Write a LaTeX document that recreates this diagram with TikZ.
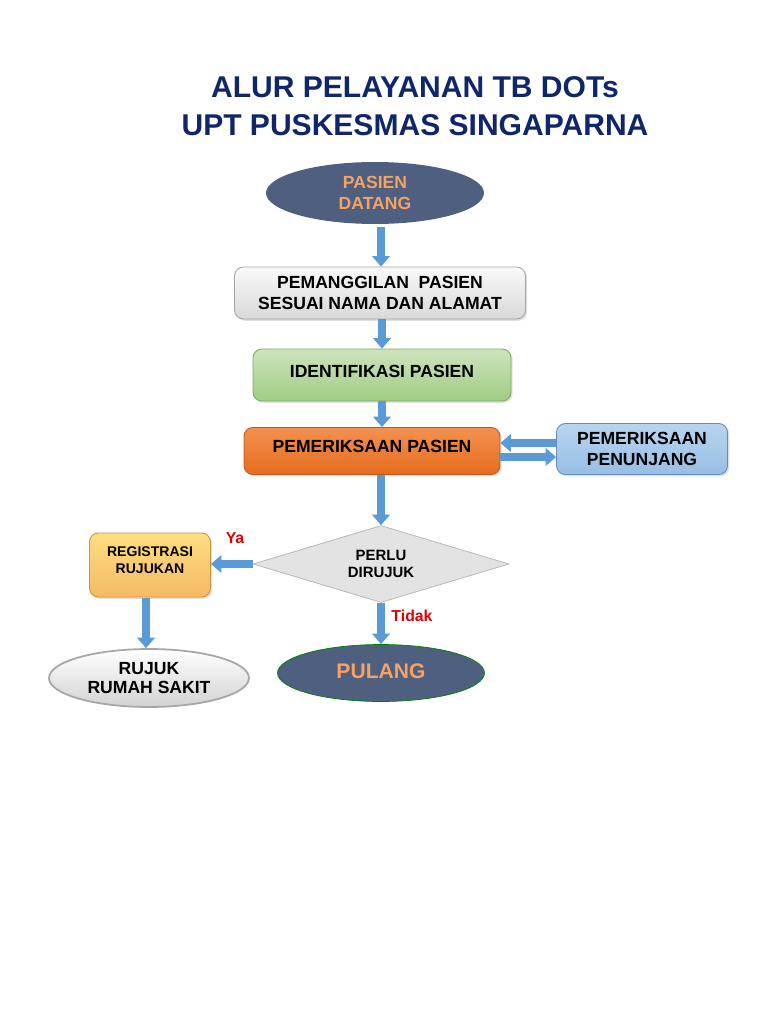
\documentclass[tikz,border=0pt]{standalone}
\usepackage{fontspec}
\setmainfont{Liberation Sans}
\usetikzlibrary{shapes.geometric,arrows.meta,shadows}
\definecolor{judul}{HTML}{10266A}
\definecolor{slate}{HTML}{4E5F80}
\definecolor{oranye}{HTML}{F5A263}
\definecolor{panah}{HTML}{5B9BD5}
\definecolor{merah}{HTML}{E00000}
\definecolor{hijauA}{HTML}{CDE4BE}
\definecolor{hijauB}{HTML}{A0CD82}
\definecolor{hijauG}{HTML}{7FA865}
\definecolor{jinggaA}{HTML}{F49150}
\definecolor{jinggaB}{HTML}{E46C1E}
\definecolor{jinggaG}{HTML}{BE5A1E}
\definecolor{biruA}{HTML}{B9D4EE}
\definecolor{biruB}{HTML}{96BEE4}
\definecolor{biruG}{HTML}{648CBE}
\definecolor{kuningA}{HTML}{FFDE82}
\definecolor{kuningB}{HTML}{F5B964}
\definecolor{kuningG}{HTML}{C8963C}
\tikzset{
  kotak/.style={draw=#1, line width=0.5pt, rounded corners=5pt, align=center,
    font=\bfseries\fontsize{10}{11.5}\selectfont, drop shadow={opacity=0.25, shadow xshift=1pt, shadow yshift=-1pt}},
  elips/.style={ellipse, inner sep=0pt, align=center},
  naik/.style={text depth=#1},
  panahbiru/.style={-{Triangle[length=6pt,width=10pt]}, line width=4.2pt, draw=panah},
  label/.style={text=merah, font=\bfseries\fontsize{9}{10}\selectfont}
}
\begin{document}
\begin{tikzpicture}[x=0.02cm, y=-0.02cm]
  \useasboundingbox (0, 0) rectangle (768, 1024);
  % judul
  \node[text=judul, font=\bfseries\fontsize{17.1}{20}\selectfont] (judul1) at (415, 87) {ALUR PELAYANAN TB DOTs};
  \node[text=judul, font=\bfseries\fontsize{17.1}{20}\selectfont] (judul2) at (415, 125) {UPT PUSKESMAS SINGAPARNA};
  % alur utama
  \node[elips, fill=slate, minimum width=4.36cm, minimum height=1.24cm, text=oranye,
    font=\bfseries\fontsize{10}{11.5}\selectfont] (datang) at (375, 193) {PASIEN\\DATANG};
  \node[kotak=gray!70, top color=gray!5, bottom color=gray!30, minimum width=5.82cm, minimum height=1.04cm] (panggil) at (380, 293) {PEMANGGILAN~ PASIEN\\SESUAI NAMA DAN ALAMAT};
  \node[kotak=hijauG, top color=hijauA, bottom color=hijauB, minimum width=5.16cm, minimum height=1.04cm, naik=0.16cm] (identifikasi) at (382, 375) {IDENTIFIKASI PASIEN};
  \node[kotak=jinggaG, top color=jinggaA, bottom color=jinggaB, minimum width=5.12cm, minimum height=0.94cm, naik=0.2cm] (periksa) at (372, 451) {PEMERIKSAAN PASIEN};
  \node[kotak=biruG, top color=biruA, bottom color=biruB, minimum width=3.42cm, minimum height=1.02cm] (penunjang) at (642, 449) {PEMERIKSAAN\\PENUNJANG};
  \node[diamond, inner sep=0pt, draw=gray!60, fill=gray!22, aspect=3.3, minimum width=5.12cm, minimum height=1.54cm, align=center,
    font=\bfseries\fontsize{8.5}{10}\selectfont] (rujuk) at (381, 564) {PERLU\\DIRUJUK};
  \node[kotak=kuningG, top color=kuningA, bottom color=kuningB, minimum width=2.42cm, minimum height=1.28cm,
    font=\bfseries\fontsize{8}{9.5}\selectfont, naik=0.2cm] (registrasi) at (150, 565) {REGISTRASI\\RUJUKAN};
  \node[elips, draw=gray!70, line width=1pt, top color=white, bottom color=gray!35, minimum width=4cm, minimum height=1.16cm,
    font=\bfseries\fontsize{10}{11}\selectfont] (rs) at (149, 678) {RUJUK\\RUMAH SAKIT};
  \node[elips, draw=green!50!black, fill=slate, minimum width=4.14cm, minimum height=1.14cm, text=oranye,
    font=\bfseries\fontsize{12}{14}\selectfont, naik=0.08cm] (pulang) at (381, 673) {PULANG};
  % panah
  \coordinate (atas) at (381, 227);
  \draw[panahbiru] (atas) -- (atas |- panggil.north);
  \draw[panahbiru] (panggil.south -| identifikasi.north) -- (identifikasi.north);
  \draw[panahbiru] (identifikasi.south) -- (identifikasi.south |- periksa.north);
  \draw[panahbiru] (periksa.south -| rujuk.north) -- (rujuk.north);
  \draw[panahbiru] (penunjang.west |- 0, 443) -- (periksa.east |- 0, 443);
  \draw[panahbiru] (periksa.east |- 0, 457) -- (penunjang.west |- 0, 457);
  \draw[panahbiru] (rujuk.west) -- (rujuk.west -| registrasi.east);
  \coordinate (kiri) at (146, 598);
  \draw[panahbiru] (kiri) -- (kiri |- rs.north);
  \draw[panahbiru] (rujuk.south) -- (rujuk.south |- pulang.north);
  % label
  \node[label] (ya) at (235, 538) {Ya};
  \node[label] (tidak) at (412, 616) {Tidak};
\end{tikzpicture}
\end{document}
